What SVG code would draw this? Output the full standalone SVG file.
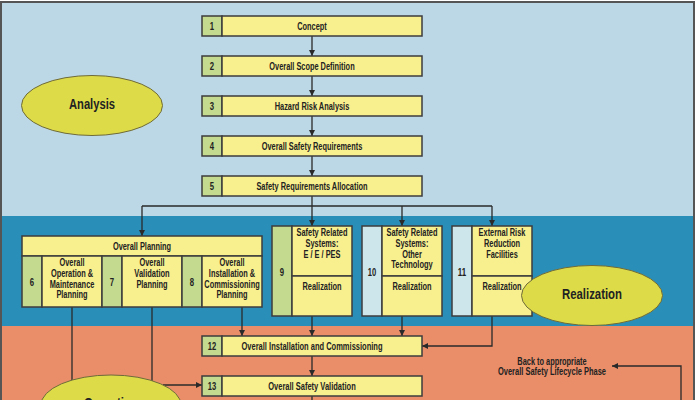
<svg xmlns="http://www.w3.org/2000/svg" width="698" height="400" viewBox="0 0 698 400">
<defs>
<style>
text{font-family:"Liberation Sans",Arial,sans-serif;font-weight:bold;fill:#222;text-anchor:middle}
.t{font-size:10px}
.big{font-size:14.5px}
.box{fill:#f8ef8e;stroke:#3c3c3c;stroke-width:1.5}
.num{fill:#c4da8e;stroke:#3c3c3c;stroke-width:1.5}
.numb{fill:#cde6ec;stroke:#3c3c3c;stroke-width:1.5}
.ell{fill:#dddc48;stroke:#6e6a3a;stroke-width:1}
.c{fill:none;stroke:#2a2a2a;stroke-width:1.3}
</style>
<marker id="ah" viewBox="0 0 10 10" refX="10" refY="5" markerWidth="7" markerHeight="6" orient="auto" markerUnits="userSpaceOnUse">
<path d="M0,0 L10,5 L0,10 z" fill="#2a2a2a"/>
</marker>
</defs>
<rect x="0" y="0" width="698" height="400" fill="#ffffff"/>
<g id="background">
<rect x="1" y="2" width="693" height="214" fill="#bcd7e5"/>
<rect x="1" y="216" width="693" height="110" fill="#2a8fb8"/>
<rect x="1" y="326" width="693" height="80" fill="#e98e69"/>
<rect x="1" y="2" width="693" height="404" fill="none" stroke="#555" stroke-width="2"/>
</g>
<g id="connectors">
<path class="c" d="M312,36 V56" marker-end="url(#ah)"/>
<path class="c" d="M312,76 V96" marker-end="url(#ah)"/>
<path class="c" d="M312,116 V136" marker-end="url(#ah)"/>
<path class="c" d="M312,156 V176" marker-end="url(#ah)"/>
<path class="c" d="M312,196 V226" marker-end="url(#ah)"/>
<path class="c" d="M142,206 H492"/>
<path class="c" d="M142,206 V236" marker-end="url(#ah)"/>
<path class="c" d="M402,206 V226" marker-end="url(#ah)"/>
<path class="c" d="M492,206 V226" marker-end="url(#ah)"/>
<path class="c" d="M242,307 V336" marker-end="url(#ah)"/>
<path class="c" d="M312,316 V336" marker-end="url(#ah)"/>
<path class="c" d="M402,316 V336" marker-end="url(#ah)"/>
<path class="c" d="M492,316 V346 H422" marker-end="url(#ah)"/>
<path class="c" d="M312,356 V376" marker-end="url(#ah)"/>
<path class="c" d="M312,396 V400"/>
<path class="c" d="M72,307 V381"/>
<path class="c" d="M152,307 V381"/>
<path class="c" d="M163,385 H202" marker-end="url(#ah)"/>
<path class="c" d="M681,400 V366 H612" marker-end="url(#ah)"/>
</g>
<g id="n1"><rect class="num" x="202" y="16" width="20" height="20"/><rect class="box" x="222" y="16" width="200" height="20"/><text class="t" x="212" y="29.6" textLength="4.3" lengthAdjust="spacingAndGlyphs">1</text><text class="t" x="312" y="29.6" textLength="29.5" lengthAdjust="spacingAndGlyphs">Concept</text></g>
<g id="n2"><rect class="num" x="202" y="56" width="20" height="20"/><rect class="box" x="222" y="56" width="200" height="20"/><text class="t" x="212" y="69.6" textLength="4.3" lengthAdjust="spacingAndGlyphs">2</text><text class="t" x="312" y="69.6" textLength="85.3" lengthAdjust="spacingAndGlyphs">Overall Scope Definition</text></g>
<g id="n3"><rect class="num" x="202" y="96" width="20" height="20"/><rect class="box" x="222" y="96" width="200" height="20"/><text class="t" x="212" y="109.6" textLength="4.3" lengthAdjust="spacingAndGlyphs">3</text><text class="t" x="312" y="109.6" textLength="74.6" lengthAdjust="spacingAndGlyphs">Hazard Risk Analysis</text></g>
<g id="n4"><rect class="num" x="202" y="136" width="20" height="20"/><rect class="box" x="222" y="136" width="200" height="20"/><text class="t" x="212" y="149.6" textLength="4.3" lengthAdjust="spacingAndGlyphs">4</text><text class="t" x="312" y="149.6" textLength="100.5" lengthAdjust="spacingAndGlyphs">Overall Safety Requirements</text></g>
<g id="n5"><rect class="num" x="202" y="176" width="20" height="20"/><rect class="box" x="222" y="176" width="200" height="20"/><text class="t" x="212" y="189.6" textLength="4.3" lengthAdjust="spacingAndGlyphs">5</text><text class="t" x="312" y="189.6" textLength="111.1" lengthAdjust="spacingAndGlyphs">Safety Requirements Allocation</text></g>
<g id="analysis"><ellipse class="ell" cx="92" cy="105.5" rx="70.5" ry="30"/><text class="big" x="92" y="108.5" textLength="46" lengthAdjust="spacingAndGlyphs">Analysis</text></g>
<g id="planning">
<rect class="box" x="22" y="236" width="240" height="20"/>
<text class="t" x="142" y="249.6" textLength="58.2" lengthAdjust="spacingAndGlyphs">Overall Planning</text>
<rect class="num" x="22" y="256" width="20" height="51"/><rect class="box" x="42" y="256" width="60" height="51"/>
<rect class="num" x="102" y="256" width="20" height="51"/><rect class="box" x="122" y="256" width="60" height="51"/>
<rect class="num" x="182" y="256" width="20" height="51"/><rect class="box" x="202" y="256" width="60" height="51"/>
<text class="t" x="32" y="285.6" textLength="4.3" lengthAdjust="spacingAndGlyphs">6</text><text class="t" x="112" y="285.6" textLength="4.3" lengthAdjust="spacingAndGlyphs">7</text><text class="t" x="192" y="285.6" textLength="4.3" lengthAdjust="spacingAndGlyphs">8</text>
<text class="t" x="72" y="266.3" textLength="25" lengthAdjust="spacingAndGlyphs">Overall</text><text class="t" x="72" y="276.9" textLength="42.2" lengthAdjust="spacingAndGlyphs">Operation &amp;</text><text class="t" x="72" y="287.6" textLength="44.7" lengthAdjust="spacingAndGlyphs">Maintenance</text><text class="t" x="72" y="298.3" textLength="31.2" lengthAdjust="spacingAndGlyphs">Planning</text>
<text class="t" x="152" y="266.3" textLength="25" lengthAdjust="spacingAndGlyphs">Overall</text><text class="t" x="152" y="276.9" textLength="35.3" lengthAdjust="spacingAndGlyphs">Validation</text><text class="t" x="152" y="287.6" textLength="31.2" lengthAdjust="spacingAndGlyphs">Planning</text>
<text class="t" x="232" y="266.3" textLength="25" lengthAdjust="spacingAndGlyphs">Overall</text><text class="t" x="232" y="276.9" textLength="46.3" lengthAdjust="spacingAndGlyphs">Installation &amp;</text><text class="t" x="232" y="287.6" textLength="55.4" lengthAdjust="spacingAndGlyphs">Commissioning</text><text class="t" x="232" y="298.3" textLength="31.2" lengthAdjust="spacingAndGlyphs">Planning</text>
</g>
<g id="n9">
<rect class="num" x="272" y="226" width="20" height="90"/><rect class="box" x="292" y="226" width="60" height="50"/><rect class="box" x="292" y="276" width="60" height="40"/>
<text class="t" x="282" y="276.3" textLength="4.3" lengthAdjust="spacingAndGlyphs">9</text>
<text class="t" x="322" y="236.3" textLength="51" lengthAdjust="spacingAndGlyphs">Safety Related</text><text class="t" x="322" y="246.9" textLength="32.8" lengthAdjust="spacingAndGlyphs">Systems:</text><text class="t" x="322" y="257.6" textLength="36.9" lengthAdjust="spacingAndGlyphs">E / E / PES</text>
<text class="t" x="322" y="289.6" textLength="39" lengthAdjust="spacingAndGlyphs">Realization</text>
</g>
<g id="n10">
<rect class="numb" x="362" y="226" width="20" height="90"/><rect class="box" x="382" y="226" width="60" height="50"/><rect class="box" x="382" y="276" width="60" height="40"/>
<text class="t" x="372" y="276.3" textLength="8.4" lengthAdjust="spacingAndGlyphs">10</text>
<text class="t" x="412" y="236.3" textLength="51" lengthAdjust="spacingAndGlyphs">Safety Related</text><text class="t" x="412" y="246.9" textLength="32.8" lengthAdjust="spacingAndGlyphs">Systems:</text><text class="t" x="412" y="257.6" textLength="19.7" lengthAdjust="spacingAndGlyphs">Other</text><text class="t" x="412" y="268.3" textLength="41.4" lengthAdjust="spacingAndGlyphs">Technology</text>
<text class="t" x="412" y="289.6" textLength="39" lengthAdjust="spacingAndGlyphs">Realization</text>
</g>
<g id="n11">
<rect class="numb" x="452" y="226" width="20" height="90"/><rect class="box" x="472" y="226" width="60" height="50"/><rect class="box" x="472" y="276" width="60" height="40"/>
<text class="t" x="462" y="276.3" textLength="8.4" lengthAdjust="spacingAndGlyphs">11</text>
<text class="t" x="502" y="236.3" textLength="46.8" lengthAdjust="spacingAndGlyphs">External Risk</text><text class="t" x="502" y="246.9" textLength="36.1" lengthAdjust="spacingAndGlyphs">Reduction</text><text class="t" x="502" y="257.6" textLength="31.6" lengthAdjust="spacingAndGlyphs">Facilities</text>
<text class="t" x="502" y="289.6" textLength="39" lengthAdjust="spacingAndGlyphs">Realization</text>
</g>
<g id="realization"><ellipse class="ell" cx="592" cy="295.5" rx="70.5" ry="30"/><text class="big" x="592" y="298.5" textLength="60" lengthAdjust="spacingAndGlyphs">Realization</text></g>
<g id="n12"><rect class="num" x="202" y="336" width="20" height="20"/><rect class="box" x="222" y="336" width="200" height="20"/><text class="t" x="212" y="349.6" textLength="8.4" lengthAdjust="spacingAndGlyphs">12</text><text class="t" x="312" y="349.6" textLength="141" lengthAdjust="spacingAndGlyphs">Overall Installation and Commissioning</text></g>
<g id="n13"><rect class="num" x="202" y="376" width="20" height="20"/><rect class="box" x="222" y="376" width="200" height="20"/><text class="t" x="212" y="389.6" textLength="8.4" lengthAdjust="spacingAndGlyphs">13</text><text class="t" x="312" y="389.6" textLength="87.5" lengthAdjust="spacingAndGlyphs">Overall Safety Validation</text></g>
<g id="operation"><ellipse class="ell" cx="111" cy="405" rx="70" ry="30"/><text class="big" x="111" y="408" textLength="54" lengthAdjust="spacingAndGlyphs">Operation</text></g>
<g id="back"><text class="t" x="552" y="364.6" textLength="69.3" lengthAdjust="spacingAndGlyphs">Back to appropriate</text><text class="t" x="552" y="374.9" textLength="108" lengthAdjust="spacingAndGlyphs">Overall Safety Lifecycle Phase</text></g>
</svg>
